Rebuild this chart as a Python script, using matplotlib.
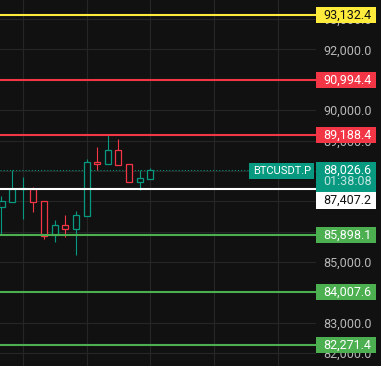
import matplotlib
matplotlib.use("Agg")
import matplotlib.pyplot as plt
from matplotlib.patches import Rectangle
from matplotlib.transforms import blended_transform_factory, offset_copy

# candles (oldest first)
opens = [86802, 86987, 87405, 87405, 87010, 85891, 86210, 86098, 86526, 88294, 88238, 88679, 88218, 87645, 87744]
highs = [87174, 88030, 87800, 87471, 87010, 86384, 86549, 86681, 88382, 88787, 89182, 89051, 88218, 88030, 88106]
lows = [85891, 86987, 86407, 86658, 85759, 85670, 85835, 85242, 86526, 88030, 88238, 88205, 87645, 87372, 87744]
closes = [87010, 87405, 87421, 86987, 85868, 86210, 86098, 86539, 88284, 88238, 88679, 88205, 87645, 87757, 88026.6]

levels = [93132.4, 90994.4, 89188.4, 85898.1, 84007.6, 82271.4]
level_colors = ['#FFEB3B', '#F23645', '#F23645', '#4CAF50', '#4CAF50', '#4CAF50']
level_text = ['#111111', 'white', 'white', 'white', 'white', 'white']

prev_close = 87407.2
last_price = 88026.6
symbol = "BTCUSDT.P"
countdown = "01:38:08"
price_ticks = list(range(82000, 94000, 1000))
# scale labels hidden under the price tags
hidden_ticks = [84000, 86000, 87000, 88000, 91000]

BG = '#111111'
GRID = '#262626'
UP = '#089981'
DOWN = '#F23645'

plt.rcParams['font.family'] = ['Roboto', 'DejaVu Sans']

fig = plt.figure(figsize=(3.81, 3.66), dpi=100, facecolor=BG)
ax = fig.add_axes([0, 0, 316 / 381, 1], facecolor=BG)
ax.set_xlim(-0.141, 29.586)
ax.set_ylim(81579, 93626)
for s in ax.spines.values():
    s.set_visible(False)
ax.set_xticks(range(2, 30, 6))
ax.set_yticks(price_ticks)
ax.set_yticklabels(["" if p in hidden_ticks else f"{p:,.1f}" for p in price_ticks])
ax.yaxis.tick_right()
ax.tick_params(axis='x', length=0, labelbottom=False)
ax.tick_params(axis='y', length=0, pad=5, labelsize=9, labelcolor='#b8b8b8')
ax.grid(color=GRID, lw=0.8)
ax.set_axisbelow(True)

# candles, hollow style
for i in range(len(opens)):
    o, h, l, c = opens[i], highs[i], lows[i], closes[i]
    col = UP if c >= o else DOWN
    ax.vlines(i, l, h, color=col, lw=0.8, zorder=2)
    ax.add_patch(Rectangle((i - 0.28, min(o, c)), 0.565, max(abs(c - o), 40),
                           facecolor=BG, edgecolor=col, lw=0.9, zorder=3))

# level lines
for p, col in zip(levels, level_colors):
    ax.axhline(p, color=col, lw=1.5, zorder=4)
ax.axhline(prev_close, color='white', lw=1.5, zorder=4)
ax.axhline(last_price, xmax=249 / 316, color=UP, lw=0.75, ls=(0, (1, 2)), zorder=1)

fig.canvas.draw()
ppu = 366 / (93626 - 81579)
mixed = blended_transform_factory(fig.dpi_scale_trans, ax.transData)


def price_box(price, text, face, color, dy=0.0, h=16.5, x0=3.16, w=0.597, tx=3.235):
    tr = offset_copy(mixed, fig=fig, y=dy, units='dots')
    hd = h / ppu
    ax.add_patch(Rectangle((x0, price - hd / 2), w, hd, transform=tr, facecolor=face,
                           edgecolor='none', clip_on=False, zorder=5))
    if text:
        ax.text(tx, price, text, transform=tr, color=color, fontsize=9, va='center',
                ha='left', clip_on=False, zorder=6)


for p, col, tc in zip(levels, level_colors, level_text):
    price_box(p, f"{p:,.1f}", col, tc)

# previous close box pushed below the live price box
price_box(prev_close, f"{prev_close:,.1f}", 'white', '#111111', dy=-11.8, h=17)

# live price box with countdown
price_box(last_price, None, UP, 'white', dy=-7.1, h=30)
ax.text(3.235, last_price, f"{last_price:,.1f}", transform=offset_copy(mixed, fig=fig, y=-0.5, units='dots'),
        color='white', fontsize=9, va='center', ha='left', clip_on=False, zorder=6)
ax.text(3.235, last_price, countdown, transform=offset_copy(mixed, fig=fig, y=-11.5, units='dots'),
        color='white', alpha=0.75, fontsize=9, va='center', ha='left', clip_on=False, zorder=6)

# symbol tag
tr = offset_copy(mixed, fig=fig, y=-0.5, units='dots')
hd = 16 / ppu
ax.add_patch(Rectangle((2.493, last_price - hd / 2), 0.65, hd, transform=tr, facecolor=UP,
                       edgecolor='none', clip_on=False, zorder=5))
ax.text(2.818, last_price, symbol, transform=tr, color='white', fontsize=8, va='center',
        ha='center', clip_on=False, zorder=6)

fig.savefig("out.png", dpi=100, facecolor=BG)
